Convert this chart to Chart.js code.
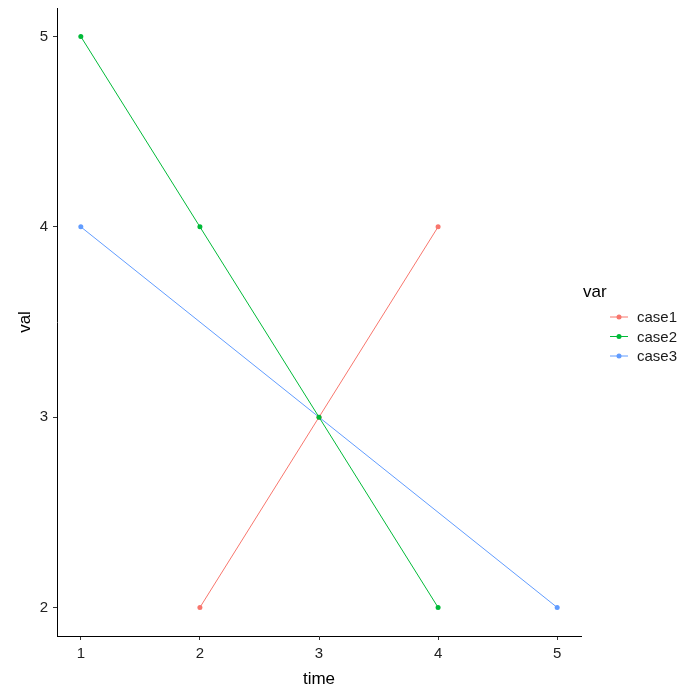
<!DOCTYPE html>
<html>
<head>
<meta charset="utf-8">
<script src="https://cdn.jsdelivr.net/npm/chart.js@4/dist/chart.umd.min.js"></script>
<style>
  html, body { margin: 0; padding: 0; background: #fff; }
  #wrap { width: 700px; height: 700px; }
</style>
</head>
<body>
<div id="wrap"><canvas id="chart" width="700" height="700"></canvas></div>
<script>
var seriesNames = ['case1', 'case2', 'case3'];
var seriesColors = ['#F8766D', '#00BA38', '#619CFF'];
var case1 = [{x: 2, y: 2}, {x: 3, y: 3}, {x: 4, y: 4}];
var case2 = [{x: 1, y: 5}, {x: 2, y: 4}, {x: 3, y: 3}, {x: 4, y: 2}];
var case3 = [{x: 1, y: 4}, {x: 5, y: 2}];
var xTicks = [1, 2, 3, 4, 5];
var yTicks = [2, 3, 4, 5];

var FONT = '"Liberation Sans", Arial, sans-serif';
Chart.defaults.font.family = FONT;

// draw order: lower "order" ends up on top -> green above red above blue
var drawOrder = [2, 1, 3];
var allData = [case1, case2, case3];
var datasets = allData.map(function(d, i) {
  return {
    label: seriesNames[i],
    data: d,
    order: drawOrder[i],
    borderColor: seriesColors[i],
    backgroundColor: seriesColors[i],
    borderWidth: 1,
    pointRadius: 2.5,
    pointBorderWidth: 0,
    pointHoverRadius: 2.5,
    showLine: true,
    fill: false
  };
});

// legend drawn by hand, ggplot style
var legendPlugin = {
  id: 'ggLegend',
  afterDraw: function(chart) {
    var c = chart.ctx;
    c.save();
    c.fillStyle = '#000';
    c.font = '17px ' + FONT;
    c.textBaseline = 'middle';
    c.textAlign = 'left';
    c.fillText('var', 583, 292);
    c.font = '15px ' + FONT;
    seriesNames.forEach(function(name, i) {
      var y = 317 + i * 19.5;
      c.strokeStyle = seriesColors[i];
      c.lineWidth = 1;
      c.beginPath();
      c.moveTo(610, y);
      c.lineTo(628, y);
      c.stroke();
      c.fillStyle = seriesColors[i];
      c.beginPath();
      c.arc(619, y, 2.5, 0, Math.PI * 2);
      c.fill();
      c.fillStyle = '#1a1a1a';
      c.fillText(name, 637, y + 1);
    });
    c.restore();
  }
};

var ctx = document.getElementById('chart').getContext('2d');
var chart = new Chart(ctx, {
  type: 'scatter',
  data: { datasets: datasets },
  plugins: [legendPlugin],
  options: {
    responsive: false,
    animation: false,
    layout: { padding: { left: 0, right: 119, top: 8, bottom: 0 } },
    plugins: { legend: { display: false }, tooltip: { enabled: false } },
    scales: {
      x: {
        type: 'linear',
        min: 0.8,
        max: 5.2,
        afterFit: function(s) { s.height = 64; s.paddingLeft = 0; s.paddingRight = 0; },
        afterBuildTicks: function(s) { s.ticks = xTicks.map(function(v) { return {value: v}; }); },
        grid: { drawOnChartArea: false, drawTicks: true, tickLength: 4, color: '#333', tickWidth: 1 },
        border: { display: true, color: '#000', width: 1 },
        ticks: { color: '#222', font: { size: 15 }, padding: 5 },
        title: { display: true, text: 'time', color: '#000', font: { size: 17 }, padding: { top: 4, bottom: 10 } }
      },
      y: {
        type: 'linear',
        min: 1.85,
        max: 5.15,
        afterFit: function(s) { s.width = 57; s.paddingTop = 0; s.paddingBottom = 0; },
        afterBuildTicks: function(s) { s.ticks = yTicks.map(function(v) { return {value: v}; }); },
        grid: { drawOnChartArea: false, drawTicks: true, tickLength: 4, color: '#333', tickWidth: 1 },
        border: { display: true, color: '#000', width: 1 },
        ticks: { color: '#222', font: { size: 15 }, padding: 5 },
        title: { display: true, text: 'val', color: '#000', font: { size: 17 }, padding: { top: 15, bottom: 4 } }
      }
    }
  }
});
</script>
</body>
</html>
